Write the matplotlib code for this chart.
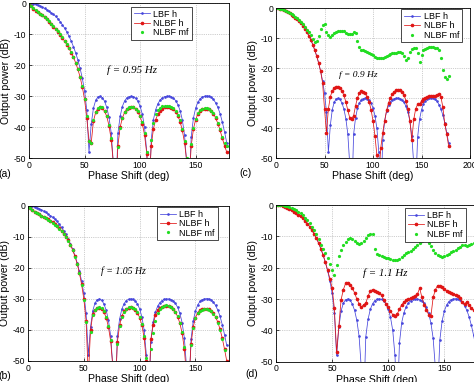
import matplotlib
matplotlib.use("Agg")
import matplotlib.pyplot as plt
import numpy as np

plt.rcParams['font.family'] = ['Liberation Sans', 'DejaVu Sans']
plt.rcParams['axes.unicode_minus'] = False

# phase shift grid (deg), one sample every 2 degrees
phase = np.arange(0, 180, 2)

# linear beamformer, same in all four panels
lbf_h = [0, -0.05, -0.15, -0.35, -0.6, -0.9, -1.25, -1.65, -2.1, -2.6,
         -3.1, -3.6, -4.2, -5.0, -5.9, -6.9, -8.0, -9.2, -10.6, -12.2,
         -14.0, -16.0, -18.3, -21.0, -24.2, -28.2, -34.5, -48.0, -39.0, -33.8,
         -31.3, -30.2, -30.0, -30.4, -31.6, -33.6, -36.8, -41.8, -52.0, -65.0,
         -42.0, -36.5, -33.3, -31.5, -30.5, -30.1, -30.0, -30.1, -30.6, -31.6,
         -33.2, -35.8, -40.0, -48.0, -65.0, -44.0, -37.5, -34.3, -32.4, -31.2,
         -30.5, -30.1, -30.0, -30.0, -30.2, -30.6, -31.4, -32.7, -34.6, -37.6,
         -42.5, -52.0, -60.0, -43.0, -37.0, -33.8, -31.9, -30.8, -30.2, -30.0,
         -29.9, -30.0, -30.3, -31.0, -32.1, -33.6, -35.6, -38.3, -41.5, -45.0]

# (a) f = 0.95 Hz
nlbf_h_a = [0, -0.8, -1.7, -2.4, -2.9, -3.3, -3.8, -4.4, -5.1, -5.9,
            -6.7, -7.5, -8.3, -9.2, -10.1, -11.1, -12.2, -13.3, -14.5, -15.9,
            -17.4, -19.2, -21.3, -23.8, -27.0, -31.0, -37.0, -44.5, -45.0, -38.0,
            -35.2, -34.0, -33.6, -33.8, -34.8, -36.5, -39.5, -44.0, -52.0, -60.0,
            -46.0, -40.0, -37.0, -35.2, -34.2, -33.7, -33.5, -33.6, -34.1, -35.0,
            -36.5, -38.8, -42.5, -48.5, -60.0, -46.0, -40.5, -37.5, -35.8, -34.7,
            -34.0, -33.6, -33.5, -33.5, -33.7, -34.2, -35.0, -36.3, -38.2, -41.0,
            -45.0, -51.0, -58.0, -46.0, -40.5, -37.5, -35.7, -34.7, -34.2, -34.0,
            -34.0, -34.2, -34.7, -35.6, -37.0, -38.8, -41.0, -43.5, -46.0, -48.0]
nlbf_mf_a = [0, -0.8, -1.6, -2.3, -2.8, -3.3, -3.8, -4.4, -5.0, -5.8,
             -6.6, -7.4, -8.2, -9.1, -10.0, -11.0, -12.1, -13.2, -14.4, -15.8,
             -17.3, -19.1, -21.2, -23.7, -26.8, -30.8, -36.5, -44.3, -45.2, -37.8,
             -35.0, -33.8, -33.4, -33.6, -34.6, -36.3, -39.2, -43.5, -51.0, -60.0,
             -46.5, -40.2, -37.0, -35.1, -34.1, -33.6, -33.4, -33.5, -34.0, -34.8,
             -36.2, -38.4, -42.0, -48.0, -58.0, -44.0, -38.5, -35.8, -34.5, -33.7,
             -33.2, -33.0, -33.0, -33.1, -33.3, -33.8, -34.6, -35.9, -37.8, -40.6,
             -44.5, -50.0, -57.0, -45.5, -40.2, -37.3, -35.5, -34.5, -34.0, -33.8,
             -33.9, -34.1, -34.6, -35.4, -36.8, -38.5, -40.6, -43.0, -45.0, -46.0]

# (b) f = 1.05 Hz
nlbf_h_b = [0, -0.6, -1.2, -1.8, -2.3, -2.7, -3.1, -3.5, -3.9, -4.3,
            -4.8, -5.3, -5.9, -6.5, -7.2, -8.0, -8.9, -9.9, -11.1, -12.5,
            -14.2, -16.2, -18.6, -21.6, -25.3, -30.0, -37.0, -55.0, -40.0, -35.0,
            -33.6, -33.0, -32.9, -33.2, -34.2, -36.0, -39.0, -43.5, -52.0, -62.0,
            -44.0, -38.5, -35.6, -34.0, -33.2, -32.8, -32.7, -32.9, -33.5, -34.5,
            -36.0, -38.5, -42.5, -50.0, -62.0, -43.0, -38.5, -35.3, -33.6, -32.8,
            -32.5, -32.3, -32.2, -32.3, -32.6, -33.2, -34.2, -35.7, -37.8, -41.0,
            -46.0, -55.0, -58.0, -44.5, -39.0, -36.0, -34.4, -33.6, -33.2, -33.1,
            -33.1, -33.3, -33.8, -34.6, -35.8, -37.5, -39.8, -42.7, -46.2, -50.0]
nlbf_mf_b = [0, -0.6, -1.2, -1.8, -2.3, -2.7, -3.1, -3.5, -3.9, -4.4,
             -4.9, -5.4, -6.0, -6.6, -7.3, -8.1, -9.0, -10.0, -11.2, -12.6,
             -14.3, -16.3, -18.7, -21.7, -25.4, -30.2, -37.5, -54.0, -40.5, -35.2,
             -33.6, -32.9, -32.7, -33.0, -34.0, -35.8, -38.8, -43.2, -51.0, -62.0,
             -44.5, -38.8, -35.8, -34.1, -33.2, -32.7, -32.6, -32.8, -33.3, -34.3,
             -35.8, -38.2, -42.0, -49.0, -60.0, -46.0, -41.0, -37.0, -34.6, -33.2,
             -32.6, -32.2, -32.1, -32.2, -32.6, -33.2, -34.2, -35.6, -37.7, -40.8,
             -45.5, -54.0, -57.0, -44.8, -39.2, -36.2, -34.6, -33.8, -33.4, -33.2,
             -33.2, -33.4, -33.9, -34.7, -35.9, -37.6, -39.9, -42.8, -46.5, -50.5]

# (c) f = 0.9 Hz
nlbf_h_c = [0, -0.05, -0.15, -0.35, -0.6, -0.9, -1.25, -1.65, -2.1, -2.6,
            -3.1, -3.6, -4.2, -5.0, -5.9, -6.9, -8.0, -9.2, -10.6, -12.2,
            -14.0, -16.0, -18.3, -21.0, -24.8, -33.5, -41.5, -33.5, -29.5, -27.5,
            -26.6, -26.3, -26.3, -26.7, -27.5, -29.0, -31.2, -34.0, -36.5, -36.8,
            -35.8, -32.5, -29.8, -28.3, -27.7, -27.8, -28.4, -29.5, -31.2, -33.8,
            -37.5, -42.5, -49.0, -56.0, -46.5, -41.5, -37.5, -34.0, -31.5, -29.8,
            -28.6, -27.8, -27.3, -27.1, -27.3, -27.9, -29.0, -30.8, -33.5, -37.5,
            -44.0, -37.0, -33.5, -32.0, -31.8, -31.0, -30.3, -29.9, -29.6, -29.4,
            -29.3, -29.2, -29.1, -29.0, -28.7, -29.5, -33.0, -38.5, -42.0, -46.0]
nlbf_mf_c = [0, -0.05, -0.15, -0.3, -0.5, -0.8, -1.1, -1.5, -1.9, -2.4,
             -2.9, -3.4, -4.0, -4.7, -5.4, -6.2, -7.1, -8.0, -9.0, -10.2,
             -11.4, -11.0, -9.2, -7.0, -5.5, -5.2, -8.0, -9.0, -9.5, -9.0,
             -8.4, -8.0, -7.6, -7.5, -7.5, -7.7, -8.1, -8.5, -8.7, -8.5,
             -8.0, -8.4, -11.0, -13.0, -13.9, -14.0, -14.3, -14.6, -14.9, -15.3,
             -15.7, -16.1, -16.5, -16.7, -16.7, -16.5, -16.2, -15.9, -15.5, -15.3,
             -15.0, -14.9, -14.8, -14.7, -14.7, -14.9, -15.8, -17.2, -16.5, -14.6,
             -13.6, -13.2, -13.4, -15.0, -18.0, -15.5, -14.0, -13.6, -13.2, -13.0,
             -12.9, -13.0, -13.1, -13.3, -14.0, -16.5, -20.5, -22.8, -23.5, -22.5]

# (d) f = 1.1 Hz
nlbf_h_d = [0, -0.05, -0.15, -0.35, -0.6, -0.9, -1.25, -1.65, -2.1, -2.6,
            -3.1, -3.6, -4.2, -5.0, -5.9, -6.9, -8.0, -9.2, -10.6, -12.2,
            -14.0, -16.0, -18.3, -20.8, -23.5, -26.5, -33.0, -47.0, -38.5, -30.2,
            -27.0, -25.0, -24.8, -25.4, -26.5, -28.0, -30.0, -31.5, -32.6, -31.8,
            -31.3, -29.1, -27.4, -27.0, -27.5, -27.6, -28.0, -28.8, -30.3, -31.6,
            -32.6, -33.8, -35.0, -35.3, -34.8, -33.2, -31.8, -31.0, -30.4, -30.0,
            -29.8, -29.4, -29.0, -28.5, -26.5, -29.5, -31.8, -33.5, -35.0, -35.5,
            -29.5, -27.0, -25.7, -25.8, -26.3, -26.8, -27.3, -27.6, -28.0, -28.3,
            -28.6, -29.0, -29.8, -31.0, -31.7, -30.8, -31.8, -33.0, -33.6, -34.0]
nlbf_mf_d = [0, 0.0, -0.05, -0.1, -0.2, -0.35, -0.55, -0.8, -1.15, -1.6,
             -2.1, -2.7, -3.3, -4.0, -4.9, -5.8, -6.9, -8.0, -9.4, -11.0,
             -12.6, -14.0, -15.3, -17.0, -18.8, -20.8, -22.3, -19.0, -16.3, -14.2,
             -12.8, -11.7, -11.0, -10.6, -10.9, -11.6, -12.2, -12.5, -12.1, -11.4,
             -10.6, -9.6, -9.2, -9.4, -14.0, -15.5, -16.0, -16.4, -16.6, -16.8,
             -17.0, -17.2, -17.4, -17.6, -17.5, -17.2, -16.6, -16.0, -15.4, -15.0,
             -14.6, -14.0, -13.4, -12.8, -12.0, -11.4, -11.0, -11.2, -12.0, -13.0,
             -14.2, -15.2, -16.0, -16.4, -16.5, -16.3, -15.9, -15.5, -15.0, -14.6,
             -14.2, -13.8, -13.4, -12.9, -12.6, -13.2, -12.8, -12.3, -12.1, -12.0]

labels = ["LBF h", "NLBF h", "NLBF mf"]


def panel(fig, rect, h, mf, xmax, xticks, ftext, fpos, fsize, legpos, tag, tagpos):
    ax = fig.add_axes(rect)
    ax.plot(phase, lbf_h, color="#4646dc", lw=0.55, marker=".", ms=1.8, label=labels[0])
    ax.plot(phase, h, color="#e01515", lw=0.55, marker=".", ms=3.2, label=labels[1])
    ax.plot(phase, mf, color="#22dd22", lw=0, marker=".", ms=2.6, label=labels[2])
    ax.set_xlim(0, xmax)
    ax.set_ylim(-50, 0)
    ax.set_xticks(xticks)
    ax.set_yticks([-50, -40, -30, -20, -10, 0])
    ax.tick_params(direction="in", length=2.5, width=0.5, labelsize=6.2, pad=2)
    ax.grid(True, linestyle=":", linewidth=0.5, color="#a0a0a0")
    for s in ax.spines.values():
        s.set_linewidth(0.6)
    ax.set_xlabel("Phase Shift (deg)", fontsize=7.6, labelpad=1)
    ax.set_ylabel("Output power (dB)", fontsize=7.6, labelpad=2)
    ax.text(fpos[0], fpos[1], ftext, fontsize=fsize, family="Liberation Serif",
            style="italic", va="center")
    leg = ax.legend(loc="upper left", bbox_to_anchor=legpos, bbox_transform=fig.transFigure,
                    borderaxespad=0, fontsize=6.5, numpoints=1, handlelength=1.8,
                    handletextpad=0.4, labelspacing=0.05, borderpad=0.3,
                    fancybox=False, framealpha=1, edgecolor="k")
    leg.get_frame().set_linewidth(0.5)
    fig.text(tagpos[0], tagpos[1], tag, fontsize=7.5, va="center")
    return ax


fig = plt.figure(figsize=(4.74, 3.82), dpi=100)

panel(fig, [0.0612, 0.5856, 0.4219, 0.4058], nlbf_h_a, nlbf_mf_a, 180, [0, 50, 100, 150],
      "f = 0.95 Hz", (70, -21.5), 7.8, (0.276, 0.982), "(a)", (-0.004, 0.545))
panel(fig, [0.5823, 0.5856, 0.4093, 0.3927], nlbf_h_c, nlbf_mf_c, 200, [0, 50, 100, 150, 200],
      "f = 0.9 Hz", (65, -22.2), 6.8, (0.846, 0.976), "(c)", (0.506, 0.547))
panel(fig, [0.0591, 0.0550, 0.4240, 0.4058], nlbf_h_b, nlbf_mf_b, 180, [0, 50, 100, 150],
      "f = 1.05 Hz", (65, -21), 7.0, (0.331, 0.458), "(b)", (-0.004, 0.016))
panel(fig, [0.5823, 0.0531, 0.4262, 0.4102], nlbf_h_d, nlbf_mf_d, 180, [0, 50, 100, 150],
      "f = 1.1 Hz", (77.5, -21.8), 7.8, (0.854, 0.455), "(d)", (0.517, 0.021))

fig.savefig("out.png", dpi=100)
